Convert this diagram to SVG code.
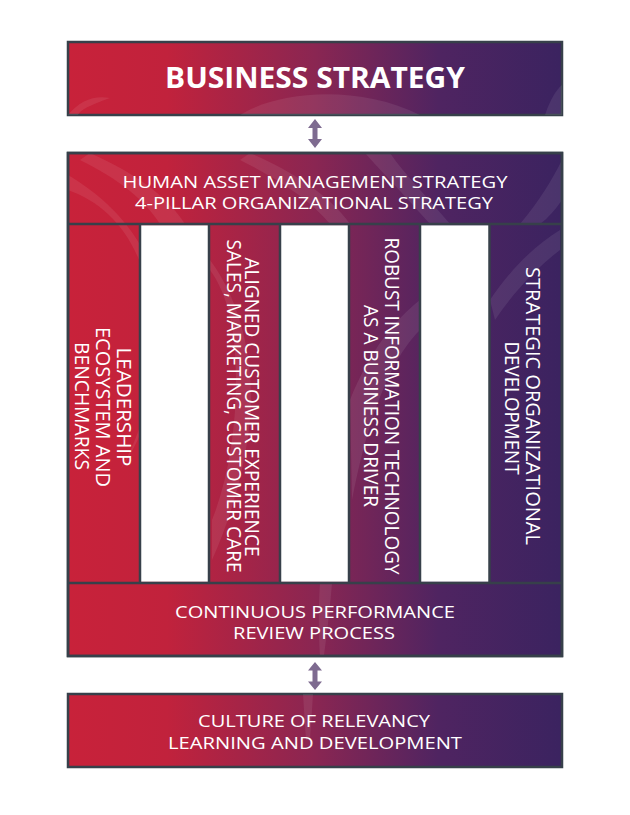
<svg xmlns="http://www.w3.org/2000/svg" width="630" height="815" viewBox="0 0 630 815">
<defs>
<linearGradient id="g" gradientUnits="userSpaceOnUse" x1="68" y1="0" x2="562" y2="0">
<stop offset="0" stop-color="#c8223a"/>
<stop offset="0.2" stop-color="#c1223c"/>
<stop offset="0.5" stop-color="#8a2652"/>
<stop offset="0.75" stop-color="#4f2461"/>
<stop offset="1" stop-color="#3b2360"/>
</linearGradient>
<clipPath id="cTop"><rect x="68" y="42" width="494" height="73"/></clipPath>
<clipPath id="cMid"><rect x="68" y="153" width="494" height="503"/></clipPath>
<clipPath id="cBot"><rect x="68" y="694" width="494" height="73"/></clipPath>
</defs>
<style>
.box{fill:url(#g);stroke:#37404a;stroke-width:2.5}
.ln{stroke:#37404a;stroke-width:2.5;fill:none}
.wc{fill:#ffffff}
.sw{fill:#ffffff;fill-opacity:0.08}
.t{font-family:"Open Sans","Liberation Sans",sans-serif;fill:#ffffff;font-size:17px;text-anchor:middle}
.tp{font-family:"Open Sans","Liberation Sans",sans-serif;fill:#ffffff;font-size:20px;text-anchor:middle}
.tb{font-family:"Open Sans","Liberation Sans",sans-serif;fill:#ffffff;font-size:29px;font-weight:bold;text-anchor:middle}
.ar{fill:#7e6b90}
</style>
<rect width="630" height="815" fill="#ffffff"/>

<g id="business-strategy">
<rect class="box" x="68" y="42" width="494" height="73"/>
<g clip-path="url(#cTop)">
<path class="sw" d="M240 115 C280 90 360 85 420 115 Z"/>
<path class="sw" d="M68 115 C80 100 95 95 110 98 C90 105 80 110 78 115 Z"/>
<path class="sw" d="M545 115 C550 100 556 90 562 85 L562 115 Z"/>
</g>
<text class="tb" x="315" y="88" textLength="300" lengthAdjust="spacingAndGlyphs">BUSINESS STRATEGY</text>
</g>

<g id="hams-frame">
<rect class="box" x="68" y="153" width="494" height="503"/>
<g clip-path="url(#cMid)">
<path class="sw" d="M68 175 C110 200 150 240 160 300 C168 360 150 430 120 470 C150 420 158 360 150 300 C140 240 110 205 68 190 Z"/>
<path class="sw" d="M90 153 C140 175 170 200 185 224 L160 224 C145 200 120 180 80 160 Z"/>
<path class="sw" d="M250 153 C290 170 330 195 350 224 L330 224 C310 200 280 180 240 160 Z"/>
<path class="sw" d="M430 224 C400 190 380 170 365 153 L390 153 C405 175 430 200 450 224 Z"/>
<path class="sw" d="M520 224 C540 200 552 180 562 160 L562 200 C555 210 548 218 540 224 Z"/>
<path class="sw" d="M210 260 C240 300 255 360 250 420 C245 470 230 520 212 560 L212 520 C228 480 236 430 236 380 C236 330 228 295 210 270 Z"/>
<path class="sw" d="M350 400 C370 350 395 320 420 300 L420 330 C400 350 385 380 372 420 C362 450 356 480 352 500 Z"/>
<path class="sw" d="M490 300 C510 270 535 245 560 230 L560 250 C540 265 515 290 495 320 Z"/>
<path class="sw" d="M320 583 L332 583 C330 610 326 640 324 656 L320 656 C319 640 318 610 320 583 Z"/>
</g>
<rect class="wc" x="140.5" y="225.2" width="68" height="356.6"/>
<rect class="wc" x="280.5" y="225.2" width="68" height="356.6"/>
<rect class="wc" x="420.5" y="225.2" width="68.5" height="356.6"/>
<path class="ln" d="M68 224 H562 M68 583 H562 M140 224 V583 M209 224 V583 M280 224 V583 M349 224 V583 M420 224 V583 M489.5 224 V583"/>
<rect x="68" y="153" width="494" height="503" fill="none" stroke="#37404a" stroke-width="2.5"/>
<text class="t"><tspan x="315" y="188" textLength="385" lengthAdjust="spacingAndGlyphs">HUMAN ASSET MANAGEMENT STRATEGY</tspan><tspan x="314" y="209" textLength="358" lengthAdjust="spacingAndGlyphs">4-PILLAR ORGANIZATIONAL STRATEGY</tspan></text>
</g>

<g id="pillar-leadership">
<text class="tp" transform="translate(117 407) rotate(90)"><tspan x="0" y="0" textLength="119" lengthAdjust="spacingAndGlyphs">LEADERSHIP</tspan><tspan x="0" y="21" textLength="160" lengthAdjust="spacingAndGlyphs">ECOSYSTEM AND</tspan><tspan x="-1" y="42" textLength="128" lengthAdjust="spacingAndGlyphs">BENCHMARKS</tspan></text>
</g>

<g id="pillar-customer">
<text class="tp" transform="translate(245 407) rotate(90)"><tspan x="0" y="0" textLength="299" lengthAdjust="spacingAndGlyphs">ALIGNED CUSTOMER EXPERIENCE</tspan><tspan x="-1" y="18" textLength="333" lengthAdjust="spacingAndGlyphs">SALES, MARKETING, CUSTOMER CARE</tspan></text>
</g>

<g id="pillar-technology">
<text class="tp" transform="translate(385 406) rotate(90)"><tspan x="0" y="0" textLength="337" lengthAdjust="spacingAndGlyphs">ROBUST INFORMATION TECHNOLOGY</tspan><tspan x="0" y="21" textLength="202" lengthAdjust="spacingAndGlyphs">AS A BUSINESS DRIVER</tspan></text>
</g>

<g id="pillar-development">
<text class="tp" transform="translate(526 406) rotate(90)"><tspan x="0" y="0" textLength="278" lengthAdjust="spacingAndGlyphs">STRATEGIC ORGANIZATIONAL</tspan><tspan x="2" y="21" textLength="133" lengthAdjust="spacingAndGlyphs">DEVELOPMENT</tspan></text>
</g>

<g id="continuous-performance">
<text class="t"><tspan x="315" y="618" textLength="280" lengthAdjust="spacingAndGlyphs">CONTINUOUS PERFORMANCE</tspan><tspan x="314" y="639" textLength="162" lengthAdjust="spacingAndGlyphs">REVIEW PROCESS</tspan></text>
</g>

<g id="culture">
<rect class="box" x="68" y="694" width="494" height="73"/>
<g clip-path="url(#cBot)">
<path class="sw" d="M303 694 L313 694 C312 710 311 725 310 740 L306 740 C305 725 304 710 303 694 Z"/>
</g>
<text class="t"><tspan x="314" y="727" textLength="232" lengthAdjust="spacingAndGlyphs">CULTURE OF RELEVANCY</tspan><tspan x="315" y="749" textLength="294" lengthAdjust="spacingAndGlyphs">LEARNING AND DEVELOPMENT</tspan></text>
</g>

<g id="connectors">
<polygon class="ar" points="315,119 322,128 317.5,128 317.5,139 322,139 315,148 308,139 312.5,139 312.5,128 308,128"/>
<polygon class="ar" points="315,662 322,670.5 317.5,670.5 317.5,681.5 322,681.5 315,690 308,681.5 312.5,681.5 312.5,670.5 308,670.5"/>
</g>
</svg>
